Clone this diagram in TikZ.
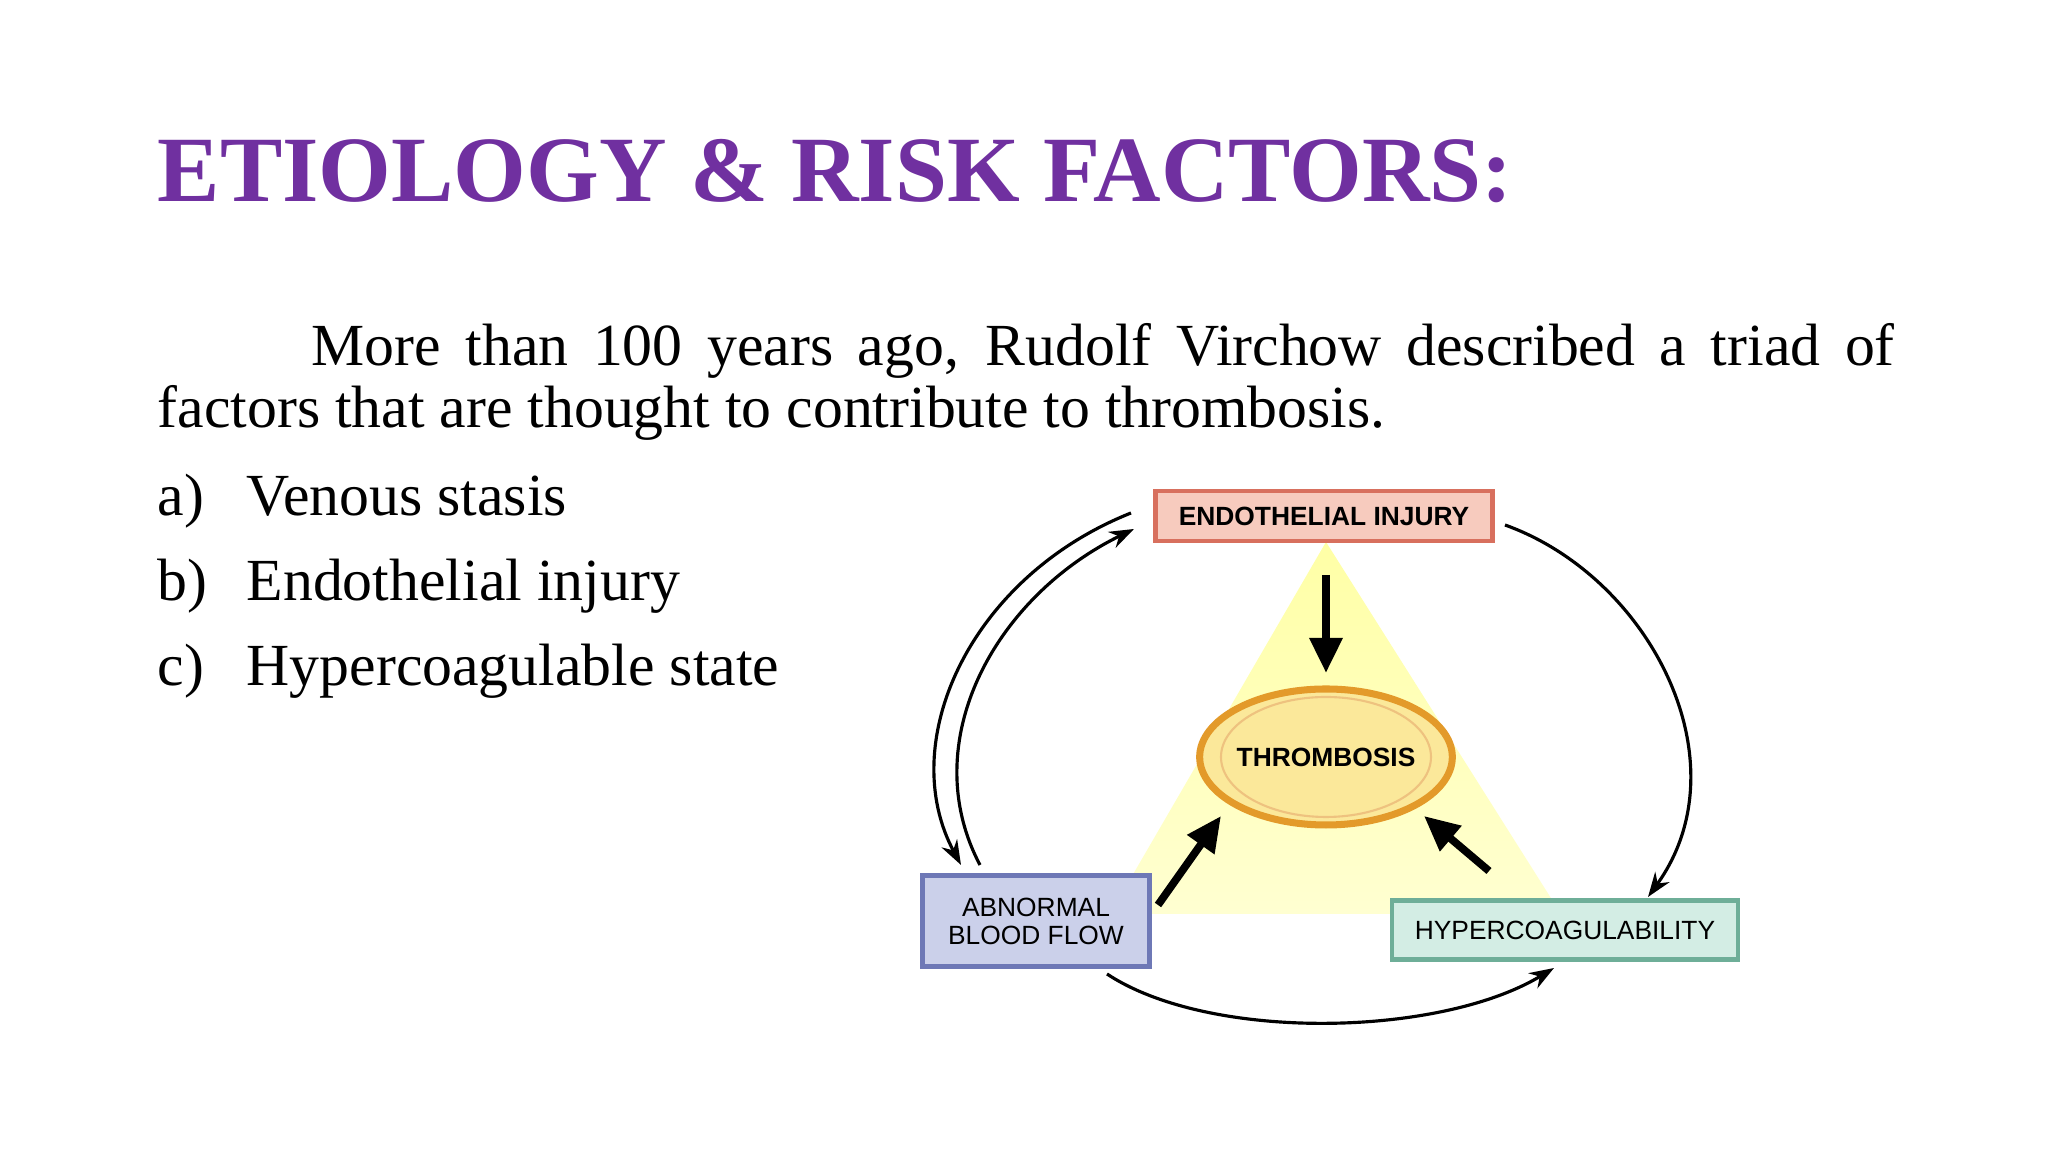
\documentclass[tikz,border=0pt]{standalone}
\usepackage{fontspec}
\setmainfont{Liberation Serif}
\newfontfamily\dia{Liberation Sans}
\usetikzlibrary{arrows.meta,shapes.geometric}
\definecolor{ttl}{HTML}{7030A0}
\definecolor{endf}{HTML}{F7CBBE}\definecolor{endd}{HTML}{D8705E}
\definecolor{abf}{HTML}{CBD0EA}\definecolor{abd}{HTML}{6E78B6}
\definecolor{hyf}{HTML}{D3EDE4}\definecolor{hyd}{HTML}{6EAE98}
\definecolor{thf}{HTML}{FBE89A}\definecolor{thd}{HTML}{E39A2A}
\tikzset{
 bodytxt/.style={font=\fontsize{17}{20}\selectfont, inner sep=0, anchor=base west},
 boxn/.style={draw=#1, line width=1.3pt, font=\dia\fontsize{7.5}{9}\selectfont, align=center, inner sep=0,
   append after command={\pgfextra{\let\tmpnode\tikzlastnode}
   [draw=#1!70, line width=0.6pt] ([shift={(0.06,0.06)}]\tmpnode.south west) rectangle ([shift={(-0.06,-0.06)}]\tmpnode.north east)}},
 thin arrow/.style={-{Stealth[length=7pt,width=5pt]}, line width=0.9pt},
 fat arrow/.style={-{Triangle[length=10pt,width=9pt]}, line width=2.2pt},
}
\begin{document}
\begin{tikzpicture}
\useasboundingbox (0,0) rectangle (20.48,11.52);
\fill[white] (0,0) rectangle (20.48,11.52);
\node[anchor=base west, inner sep=0, text=ttl, font=\bfseries\fontsize{26.6}{30}\selectfont] (title) at (1.57,9.50) {ETIOLOGY \& RISK FACTORS:};
\node[bodytxt] (l1) at (3.11,7.86) {\makebox[15.83cm][s]{More than 100 years ago, Rudolf Virchow described a triad of}};
\node[bodytxt] (l2) at (1.57,7.24) {factors that are thought to contribute to thrombosis.};
\node[bodytxt] (a) at (1.57,6.36) {a)};\node[bodytxt] (at) at (2.46,6.36) {Venous stasis};
\node[bodytxt] (b) at (1.57,5.51) {b)};\node[bodytxt] (bt) at (2.46,5.51) {Endothelial injury};
\node[bodytxt] (c) at (1.57,4.66) {c)};\node[bodytxt] (ct) at (2.46,4.66) {Hypercoagulable state};
% triangle
\shade[top color=yellow!35, bottom color=yellow!18] (13.26,6.10) -- (11.10,2.38) -- (15.61,2.38) -- cycle;
% boxes
\node[boxn=endd, fill=endf, minimum width=3.37cm, minimum height=0.50cm] (endo) at (13.24,6.36) {\textbf{ENDOTHELIAL INJURY}};
\node[boxn=abd, fill=abf, minimum width=2.27cm, minimum height=0.91cm] (abn) at (10.36,2.31) {ABNORMAL\\[-1pt]BLOOD FLOW};
\node[boxn=hyd, fill=hyf, minimum width=3.46cm, minimum height=0.59cm] (hyp) at (15.65,2.22) {HYPERCOAGULABILITY};
\node[ellipse, draw=thd, line width=2pt, fill=thf, minimum width=2.26cm, minimum height=1.36cm, inner sep=0, font=\dia\bfseries\fontsize{7.5}{9}\selectfont] (thr) at (13.26,3.95) {THROMBOSIS};
\draw[thd!60, line width=0.6pt] (thr.center) ellipse (1.05cm and 0.60cm);
% fat arrows
\coordinate (d0) at (13.26,5.77);\coordinate (d1) at (13.26,4.79);
\coordinate (l0) at (11.58,2.47);\coordinate (l1e) at (12.21,3.36);
\coordinate (r0) at (14.89,2.81);\coordinate (r1) at (14.24,3.36);
\draw[fat arrow] (d0) -- (d1);
\draw[fat arrow] (l0) -- (l1e);
\draw[fat arrow] (r0) -- (r1);
% curves
\coordinate (c1) at (15.05,6.27);\coordinate (c2) at (16.48,2.55);
\draw[thin arrow] (c1) .. controls (16.5,5.75) and (17.45,3.9) .. (c2);
\coordinate (c3) at (11.07,1.78);\coordinate (c4) at (15.54,1.84);
\draw[thin arrow] (c3) .. controls (12.1,1.1) and (14.4,1.15) .. (c4);
\coordinate (c5) at (11.31,6.39);\coordinate (c6) at (9.61,2.87);
\draw[thin arrow] (c5) .. controls (9.7,5.75) and (8.95,4.1) .. (c6);
\coordinate (c7) at (9.80,2.87);\coordinate (c8) at (11.34,6.23);
\draw[thin arrow] (c7) .. controls (9.15,4.1) and (9.95,5.55) .. (c8);
\end{tikzpicture}
\end{document}
